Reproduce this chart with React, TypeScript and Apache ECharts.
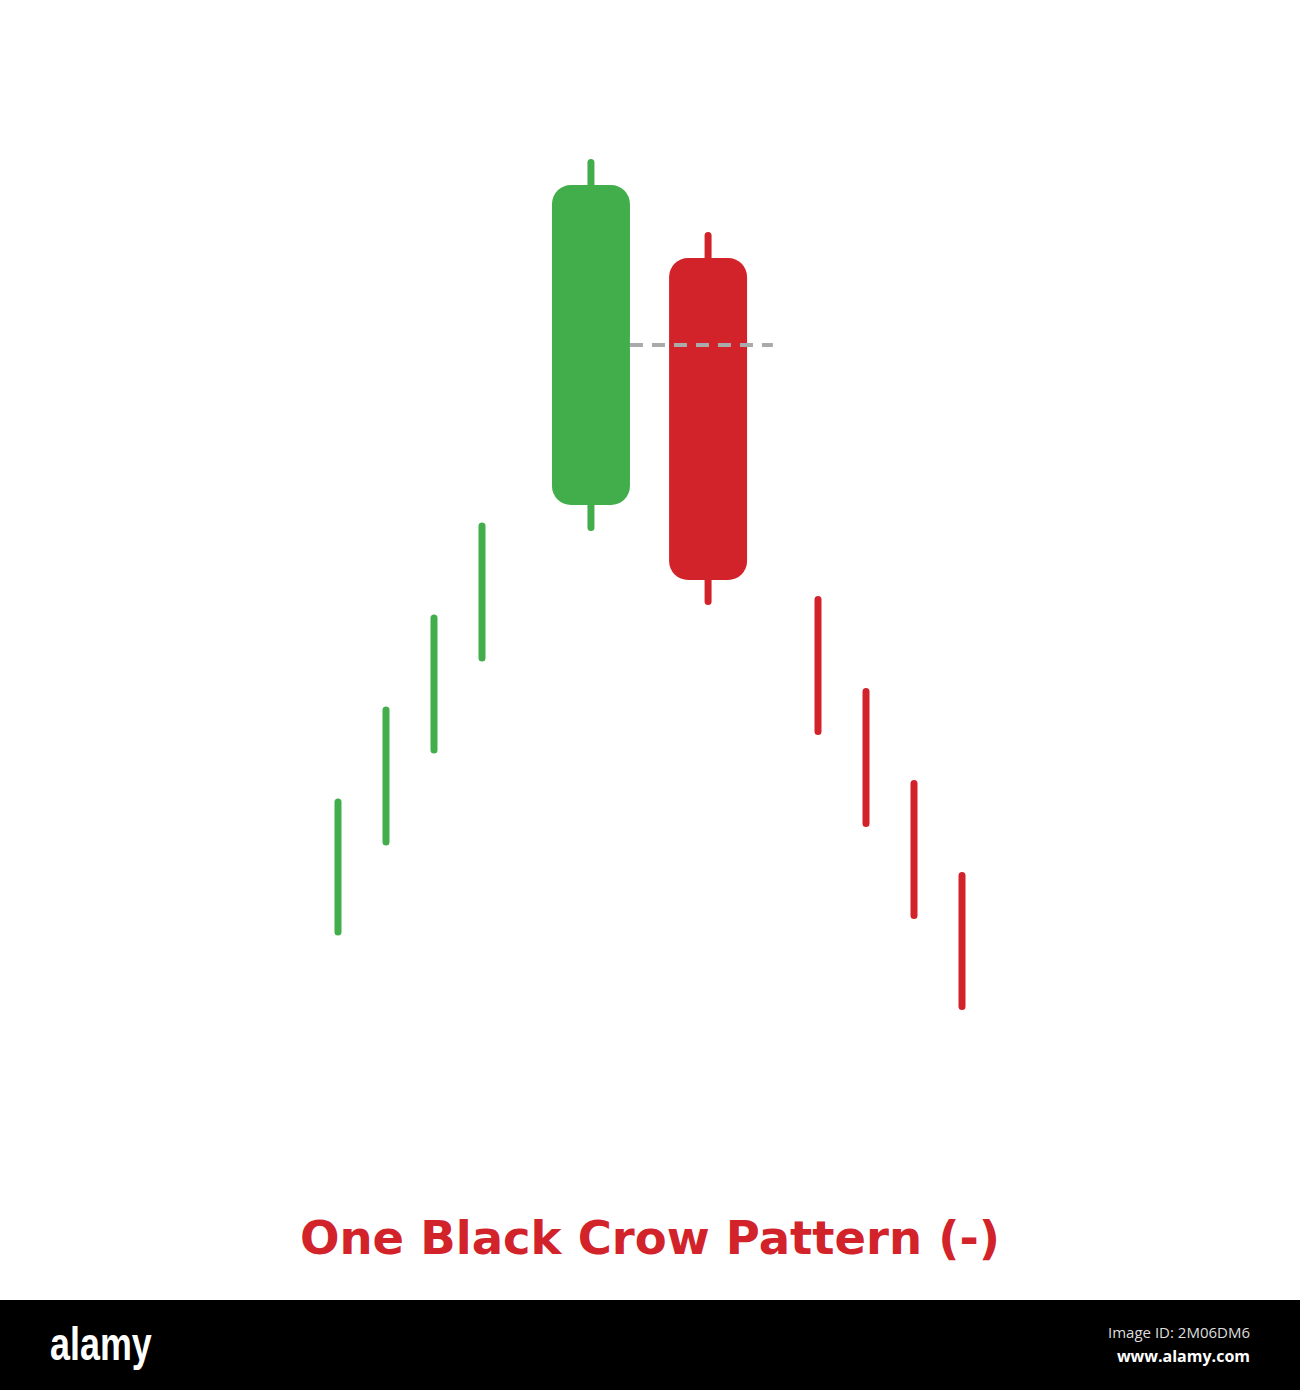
import React, { useEffect, useRef } from "react";
import * as echarts from "echarts";

// Trend (shadow-only) sticks leading into and out of the pattern
const trendX = [0, 1, 2, 3, 10, 11, 12, 13];
const trendHigh = [29.8, 39.0, 48.2, 57.4, 50.05, 40.85, 31.65, 22.45];
const trendLow = [16.8, 25.8, 35.0, 44.2, 36.85, 27.65, 18.45, 9.35];
const trendDir = ["up", "up", "up", "up", "down", "down", "down", "down"];

// The two pattern candles
const candleX = [5.27, 7.71];
const candleOpen = [59.5, 84.2];
const candleClose = [91.5, 52.0];
const candleLow = [57.25, 49.85];
const candleHigh = [93.75, 86.45];

const titleText = "One Black Crow Pattern (-)";

const GREEN = "#42ae4b";
const RED = "#d2232a";
const BODY_W = 1.625;

export default function App() {
  const ref = useRef<HTMLDivElement>(null);
  useEffect(() => {
    if (!ref.current) return;
    const chart = echarts.init(ref.current, null, { renderer: "svg" });

    const trendData = trendX.map((x, i) => [x, trendLow[i], trendHigh[i], trendDir[i] === "up" ? 1 : 0]);
    const candleData = candleX.map((x, i) => [x, candleOpen[i], candleClose[i], candleLow[i], candleHigh[i]]);
    const midLevel = (candleOpen[0] + candleClose[0]) / 2;
    const dashData = [
      [candleX[0] + BODY_W / 2, midLevel],
      [candleX[1] + 1.35, midLevel],
    ];

    chart.setOption({
      animation: false,
      backgroundColor: "#ffffff",
      grid: { left: 290, right: 290, top: 100, bottom: 290 },
      xAxis: { type: "value", min: -1, max: 14, show: false },
      yAxis: { type: "value", min: 0, max: 100, show: false },
      series: [
        {
          type: "custom",
          data: trendData,
          z: 2,
          renderItem: (params: any, api: any) => {
            const x = api.value(0);
            const lo = api.coord([x, api.value(1)]);
            const hi = api.coord([x, api.value(2)]);
            const color = api.value(3) === 1 ? GREEN : RED;
            return {
              type: "line",
              shape: { x1: hi[0], y1: hi[1], x2: lo[0], y2: lo[1] },
              style: { stroke: color, lineWidth: 7, lineCap: "round" },
            };
          },
        },
        {
          type: "custom",
          data: candleData,
          z: 2,
          renderItem: (params: any, api: any) => {
            const x = api.value(0);
            const o = api.value(1);
            const c = api.value(2);
            const color = c >= o ? GREEN : RED;
            const top = api.coord([x, Math.max(o, c)]);
            const bot = api.coord([x, Math.min(o, c)]);
            const hi = api.coord([x, api.value(4)]);
            const lo = api.coord([x, api.value(3)]);
            const w = api.size([BODY_W, 0])[0];
            return {
              type: "group",
              children: [
                {
                  type: "line",
                  shape: { x1: hi[0], y1: hi[1], x2: lo[0], y2: lo[1] },
                  style: { stroke: color, lineWidth: 7, lineCap: "round" },
                },
                {
                  type: "rect",
                  shape: { x: top[0] - w / 2, y: top[1], width: w, height: bot[1] - top[1], r: 19 },
                  style: { fill: color },
                },
              ],
            };
          },
        },
        {
          type: "line",
          data: dashData,
          symbol: "none",
          lineStyle: { color: "#aaaaaa", width: 4, type: [13, 9] },
          z: 10,
        },
      ],
      graphic: [
        {
          type: "text",
          left: "center",
          top: 1214,
          style: {
            text: titleText,
            fill: RED,
            font: "bold 46.5px 'DejaVu Sans', 'Open Sans', sans-serif",
          },
        },
        {
          type: "rect",
          shape: { x: 0, y: 1300, width: 1300, height: 90 },
          style: { fill: "#000000" },
        },
        {
          type: "text",
          x: 50,
          y: 1344,
          scaleX: 0.78,
          style: {
            text: "alamy",
            fill: "#ffffff",
            font: "bold 46px 'Liberation Sans', sans-serif",
            textVerticalAlign: "middle",
          },
        },
        {
          type: "text",
          x: 1250,
          y: 1332,
          style: {
            text: "Image ID: 2M06DM6",
            fill: "#dddddd",
            font: "15px 'Open Sans', sans-serif",
            textAlign: "right",
            textVerticalAlign: "middle",
          },
        },
        {
          type: "text",
          x: 1250,
          y: 1356,
          style: {
            text: "www.alamy.com",
            fill: "#ffffff",
            font: "bold 16px 'Open Sans', sans-serif",
            textAlign: "right",
            textVerticalAlign: "middle",
          },
        },
      ],
    });
    return () => chart.dispose();
  }, []);
  return (
    <div
      ref={ref}
      style={{ position: "absolute", left: 0, top: 0, width: 1300, height: 1390 }}
    />
  );
}
